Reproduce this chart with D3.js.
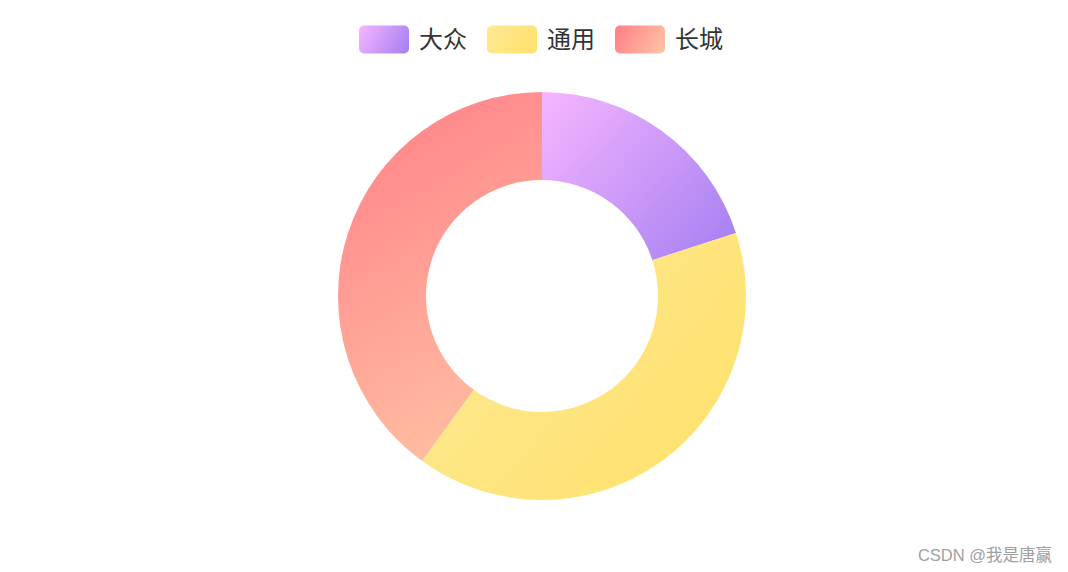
<!DOCTYPE html>
<html>
<head>
<meta charset="utf-8">
<script src="https://cdn.jsdelivr.net/npm/d3@7/dist/d3.min.js"></script>
<style>
  html, body { margin: 0; padding: 0; background: #fff; }
  svg { display: block; }
</style>
</head>
<body>
<svg id="chart" width="1068" height="572"></svg>
<script>
const categories = ["大众", "通用", "长城"];
const values = [20, 40, 40];
const gradientStart = ["#f6b6ff", "#fdea96", "#ff7e88"];
const gradientEnd = ["#a37ef1", "#ffe068", "#ffc6a4"];
const watermark = "CSDN @我是唐赢";

const W = 1068, H = 572;
const cx = 542, cy = 296, outerR = 204, innerR = 116;

const svg = d3.select("#chart");
const defs = svg.append("defs");

const pie = d3.pie().sort(null).value(d => d.value).startAngle(0).endAngle(2 * Math.PI);
const arc = d3.arc().innerRadius(innerR).outerRadius(outerR);
const data = categories.map((c, i) => ({ name: c, value: values[i], i }));

const g = svg.append("g").attr("transform", `translate(${cx},${cy})`);

const paths = g.selectAll("path.slice")
  .data(pie(data))
  .join("path")
  .attr("class", "slice")
  .attr("d", arc);

paths.each(function (d) {
  const bb = this.getBBox();
  const id = "grad" + d.data.i;
  const lg = defs.append("linearGradient")
    .attr("id", id)
    .attr("gradientUnits", "userSpaceOnUse")
    .attr("x1", bb.x).attr("y1", bb.y)
    .attr("x2", bb.x + bb.width).attr("y2", bb.y + bb.height);
  lg.append("stop").attr("offset", "0%").attr("stop-color", gradientStart[d.data.i]);
  lg.append("stop").attr("offset", "100%").attr("stop-color", gradientEnd[d.data.i]);
  d3.select(this).attr("fill", `url(#${id})`);
});

// Legend
const iconW = 50, iconH = 28, gapText = 10, gapItem = 20, fontSize = 24;
const legend = svg.append("g");
const items = legend.selectAll("g.item").data(data).join("g").attr("class", "item");
items.each(function (d) {
  const it = d3.select(this);
  const id = "lgrad" + d.i;
  const lg = defs.append("linearGradient")
    .attr("id", id)
    .attr("gradientUnits", "userSpaceOnUse")
    .attr("x1", 0).attr("y1", 0).attr("x2", iconW).attr("y2", iconH);
  lg.append("stop").attr("offset", "0%").attr("stop-color", gradientStart[d.i]);
  lg.append("stop").attr("offset", "100%").attr("stop-color", gradientEnd[d.i]);
  it.append("rect").attr("width", iconW).attr("height", iconH).attr("rx", 5).attr("ry", 5)
    .attr("fill", `url(#${id})`);
  it.append("text")
    .attr("x", iconW + gapText)
    .attr("y", iconH / 2)
    .attr("dy", "0.36em")
    .attr("font-family", "'Noto Sans CJK SC', sans-serif")
    .attr("font-size", fontSize)
    .attr("fill", "#333")
    .text(d.name);
});
const widths = [];
items.each(function () { widths.push(this.getBBox().width); });
const total = d3.sum(widths) + gapItem * (widths.length - 1);
let start = 541 - total / 2;
items.each(function (d, i) {
  d3.select(this).attr("transform", `translate(${start},${25.5})`);
  start += widths[i] + gapItem;
});

svg.append("text")
  .attr("x", 1052).attr("y", 561)
  .attr("text-anchor", "end")
  .attr("font-family", "'Liberation Sans', 'Noto Sans CJK SC', sans-serif")
  .attr("font-size", 16.5)
  .attr("fill", "#a0a0a0")
  .text(watermark);
</script>
</body>
</html>
